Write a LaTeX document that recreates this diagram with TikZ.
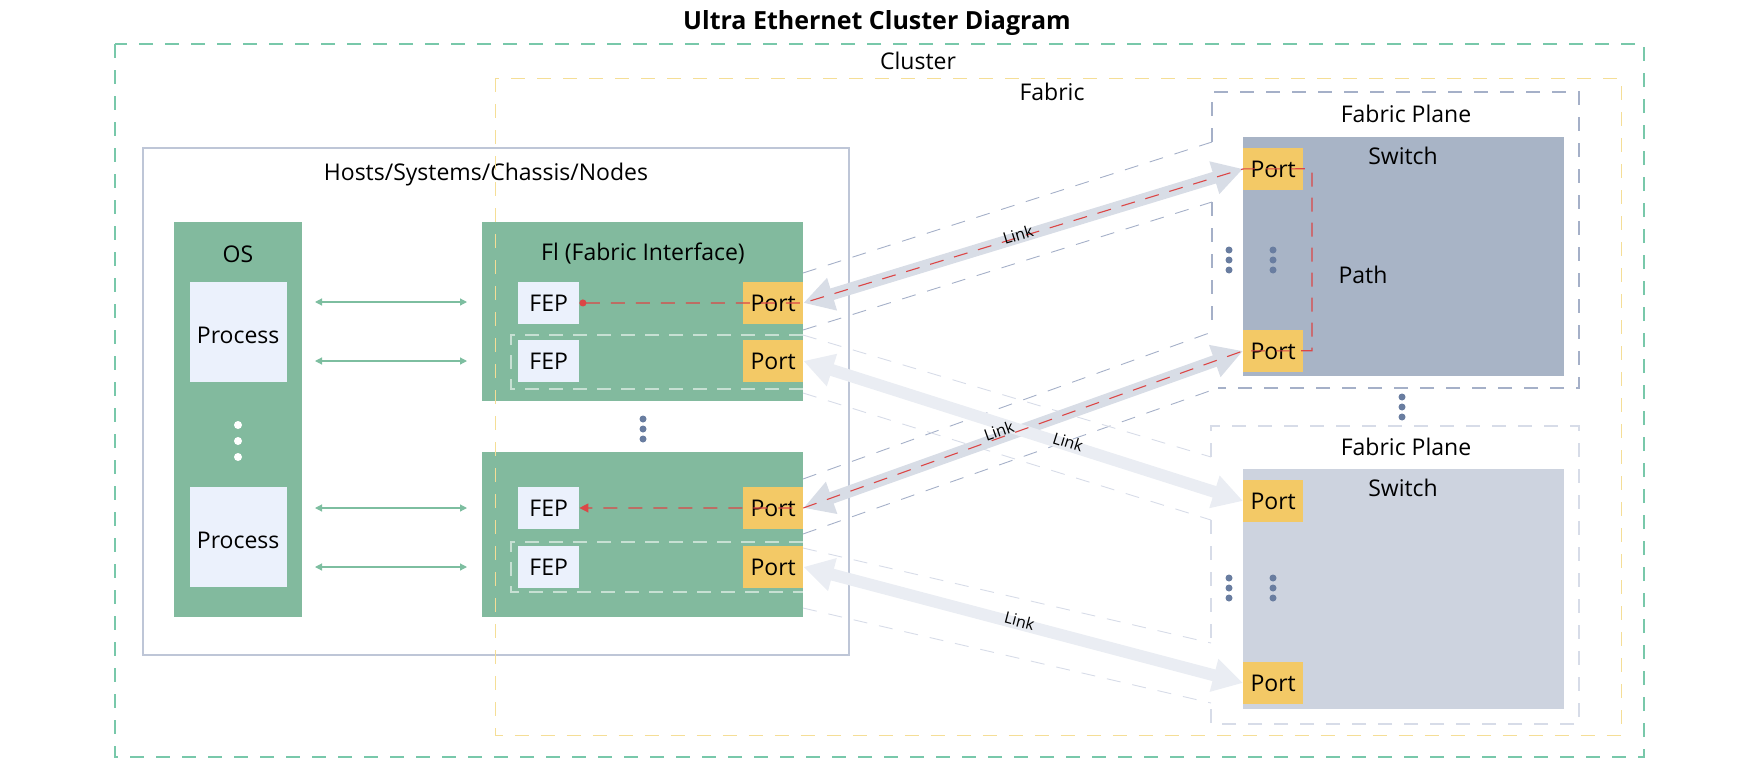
\documentclass[tikz,border=0pt]{standalone}
\usepackage{fontspec}
\setmainfont{Open Sans}
\usetikzlibrary{arrows.meta}
\definecolor{osgreen}{RGB}{130,186,158}
\definecolor{procfill}{RGB}{235,241,252}
\definecolor{portfill}{RGB}{243,201,102}
\definecolor{sw1fill}{RGB}{168,180,198}
\definecolor{sw2fill}{RGB}{205,211,223}
\definecolor{clgreen}{RGB}{120,200,170}
\definecolor{fabyellow}{RGB}{245,222,150}
\definecolor{hostline}{RGB}{190,198,215}
\definecolor{planeline}{RGB}{165,176,200}
\definecolor{planeline2}{RGB}{215,220,232}
\definecolor{linkdark}{RGB}{216,221,230}
\definecolor{linklight}{RGB}{234,237,243}
\definecolor{dotblue}{RGB}{105,125,160}
\definecolor{pathred}{RGB}{220,70,70}
\definecolor{arrgreen}{RGB}{125,190,160}
\tikzset{
  x=1pt,y=-1pt,
  txt/.style={font=\fontsize{23}{27}\selectfont, inner sep=0pt},
  box/.style={draw=none, inner sep=0pt, anchor=north west},
  portbox/.style={box, fill=portfill, font=\fontsize{23}{27}\selectfont},
  fepbox/.style={box, fill=procfill, font=\fontsize{23}{27}\selectfont},
  tunnel/.style={draw=planeline, line width=0.9pt, dash pattern=on 14pt off 12pt},
  tunnel2/.style={draw=planeline2, line width=0.9pt, dash pattern=on 14pt off 12pt},
  linkA/.style={draw=linkdark, line width=12pt, {Triangle[width=32pt,length=30pt]}-{Triangle[width=32pt,length=30pt]}},
  linkB/.style={draw=linklight, line width=12pt, {Triangle[width=32pt,length=30pt]}-{Triangle[width=32pt,length=30pt]}},
  linklbl/.style={font=\fontsize{16}{18}\selectfont, inner sep=1pt, sloped, yshift=3pt},
  hostarrow/.style={draw=arrgreen, line width=1.2pt, {Triangle[width=7pt,length=7pt]}-{Triangle[width=7pt,length=7pt]}},
  redpath/.style={draw=pathred, line width=1.1pt, dash pattern=on 14pt off 11pt},
  dotb/.style={circle, fill=dotblue, inner sep=0pt, minimum size=7pt},
  dotw/.style={circle, fill=white, inner sep=0pt, minimum size=8pt},
}
\begin{document}
\begin{tikzpicture}
\useasboundingbox (0,0) rectangle (1760,768);
% title
\node[font=\fontsize{25}{29}\selectfont\bfseries] (title) at (877,23) {Ultra Ethernet Cluster Diagram};
% cluster
\draw[clgreen, line width=1.2pt, dash pattern=on 14pt off 12pt] (115,44) rectangle (1644,757);
\node[txt] (cluster) at (918,61) {Cluster};
% hosts box
\draw[hostline, line width=1.2pt] (143,148) rectangle (849,655);
\node[txt] (hosts) at (486,175) {Hosts/Systems/Chassis/Nodes};
% OS
\node[box, fill=osgreen, minimum width=127.5pt, minimum height=395pt] (os) at (174,222) {};
\node[txt] (oslbl) at (238,254) {OS};
\node[fepbox, minimum width=97pt, minimum height=100pt] (proc1) at (189.5,282) {};
\node[txt] at ([yshift=-3pt]proc1.center) {Process};
\node[fepbox, minimum width=97pt, minimum height=100pt] (proc2) at (189.5,487) {};
\node[txt] at ([yshift=-3pt]proc2.center) {Process};
\node[dotw] (od1) at (238,425) {};
\node[dotw] (od2) at (238,441) {};
\node[dotw] (od3) at (238,457) {};
% FI boxes
\node[box, fill=osgreen, minimum width=321pt, minimum height=179pt] (fi1) at (482,222) {};
\node[txt] (filbl) at (643,254) {Fl (Fabric Interface)};
\node[box, fill=osgreen, minimum width=321pt, minimum height=165pt] (fi2) at (482,452) {};
\node[dotb] (fd1) at (643,419) {};
\node[dotb] (fd2) at (643,429) {};
\node[dotb] (fd3) at (643,439) {};
% inner dashed boxes
\draw[white!55!osgreen, line width=1.1pt, dash pattern=on 14pt off 10pt] (803,335) -- (511,335) -- (511,389) -- (803,389);
\draw[white!55!osgreen, line width=1.1pt, dash pattern=on 14pt off 10pt] (803,542) -- (511,542) -- (511,592) -- (803,592);
% FEPs and ports
\foreach \n/\y in {1/282,2/340,3/487,4/546}{
  \node[fepbox, minimum width=61pt, minimum height=41.5pt] (fep\n) at (518,\y) {};
  \node[txt] at (fep\n.center) {FEP};
  \node[portbox, minimum width=60pt, minimum height=41.5pt] (fport\n) at (743,\y) {};
  \node[txt] at (fport\n.center) {Port};
}
% host arrows
\draw[hostarrow] (315,302) -- (467,302);
\draw[hostarrow] (315,361) -- (467,361);
\draw[hostarrow] (315,508) -- (467,508);
\draw[hostarrow] (315,567) -- (467,567);
% fabric plane 1
\draw[planeline, line width=1.2pt, dash pattern=on 14pt off 12pt] (1212,142) -- (1212,92) -- (1579,92) -- (1579,388) -- (1218,388);
\draw[planeline, line width=1.2pt, dash pattern=on 14pt off 12pt] (1212,202) -- (1212,332);
\node[txt] (fp1) at (1406,114) {Fabric Plane};
\node[box, fill=sw1fill, minimum width=321pt, minimum height=239pt] (sw1) at (1243,137) {};
\node[txt] (sw1lbl) at (1403,156) {Switch};
\node[txt] (pathlbl) at (1363,275) {Path};
% fabric plane 2
\draw[planeline2, line width=1.2pt, dash pattern=on 14pt off 12pt] (1211,457) -- (1211,426) -- (1579,426) -- (1579,724) -- (1211,724) -- (1211,703);
\draw[planeline2, line width=1.2pt, dash pattern=on 14pt off 12pt] (1211,520) -- (1211,643);
\node[txt] (fp2) at (1406,447) {Fabric Plane};
\node[box, fill=sw2fill, minimum width=321pt, minimum height=240pt] (sw2) at (1243,469) {};
\node[txt] (sw2lbl) at (1403,488) {Switch};
% switch ports
\foreach \n/\y in {1/148,2/330,3/480,4/662}{
  \node[portbox, minimum width=60pt, minimum height=41.5pt] (sport\n) at (1243,\y) {};
  \node[txt] at (sport\n.center) {Port};
}
% dots
\foreach \y in {250,260,270}{ \node[dotb] at (1229,\y) {}; \node[dotb] at (1273,\y) {}; }
\foreach \y in {578,588,598}{ \node[dotb] at (1229,\y) {}; \node[dotb] at (1273,\y) {}; }
\foreach \y in {397,407,417}{ \node[dotb] at (1402,\y) {}; }
% fabric
\draw[fabyellow, line width=1pt, dash pattern=on 14pt off 12pt] (495.5,78) rectangle (1621,735);
\node[txt] (fabric) at (1052,92) {Fabric};
% tunnels
\draw[tunnel] (803,273) -- (1212,142);
\draw[tunnel] (803,330) -- (1212,202);
\draw[tunnel] (803,479) -- (1212,332);
\draw[tunnel] (803,534) -- (1218,388);
\draw[tunnel2] (803,335) -- (1211,457);
\draw[tunnel2] (803,393) -- (1211,520);
\draw[tunnel2] (803,548) -- (1211,643);
\draw[tunnel2] (803,608) -- (1211,703);
% links
\draw[linkA] (fport1.east) -- (sport1.west);
\draw[linkA] (fport3.east) -- (sport2.west);
\draw[linkB] (fport2.east) -- (sport3.west);
\draw[linkB] (fport4.east) -- (sport4.west);
% red path
\coordinate (pa) at (1312,168.75);
\coordinate (pb) at (1312,350.75);
\draw[redpath, {Circle[length=7pt,width=7pt]}-{Triangle[length=9pt,width=9pt]}]
  (fep1.east) -- (fport1.east) -- (sport1.west) -- (pa) -- (pb) -- (sport2.west) -- (fport3.east) -- (fep3.east);
% link labels on top
\path (fport1.east) -- node[linklbl, pos=0.49] (l1) {Link} (sport1.west);
\path (fport3.east) -- node[linklbl, pos=0.45, yshift=4pt] (l2) {Link} (sport2.west);
\path (fport2.east) -- node[linklbl, pos=0.6] (l3) {Link} (sport3.west);
\path (fport4.east) -- node[linklbl, pos=0.49] (l4) {Link} (sport4.west);
\end{tikzpicture}
\end{document}
